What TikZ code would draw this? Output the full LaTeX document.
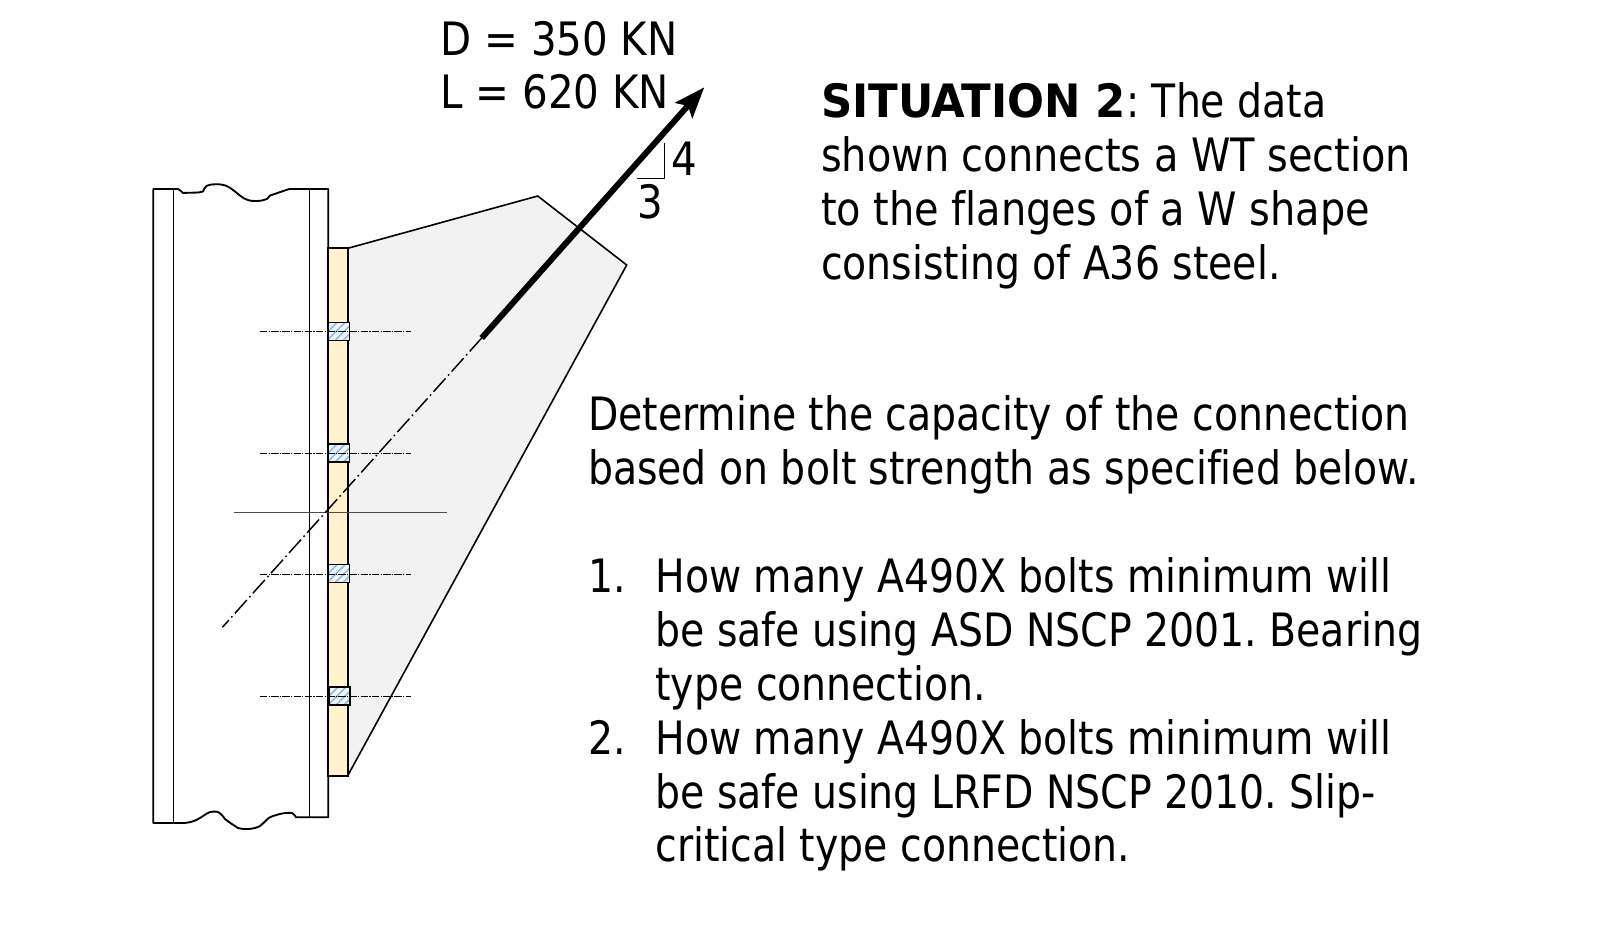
\documentclass[tikz,border=0pt]{standalone}
\usepackage{fontspec}
\setmainfont{DejaVu Sans Condensed}[FakeStretch=0.952,Ligatures={NoCommon},
  BoldFont={DejaVu Sans Condensed Bold},BoldFeatures={FakeStretch=1.05}]
\newfontfamily\labelfont{DejaVu Sans Condensed}[FakeStretch=0.975]
\newfontfamily\wideline{DejaVu Sans Condensed}[FakeStretch=0.963,Ligatures={NoCommon}]
\usetikzlibrary{arrows.meta}
\definecolor{plateY}{HTML}{FFF2CC}
\definecolor{gussetG}{HTML}{F2F2F2}
\definecolor{hatchB}{HTML}{8DB9E6}
\definecolor{boltB}{HTML}{F2F7FC}
\tikzset{
  px/.style={x=0.75pt,y=-0.75pt},
  outline/.style={draw=black,line width=1.4pt,line join=miter},
  thinl/.style={draw=black,line width=0.8pt},
  axisl/.style={draw=black,line width=0.7pt,dash pattern=on 5.5pt off 1pt on 0.9pt off 1pt},
  loadl/.style={draw=black,line width=1.1pt,dash pattern=on 13.5pt off 2.8pt on 1.2pt off 2.8pt},
  txt/.style={anchor=base west,inner sep=0pt,outer sep=0pt,font=\fontsize{34.5pt}{40pt}\selectfont\frenchspacing},
}
\newcommand{\boltbox}[2]{%
  \begin{scope}
    \clip (#1,#2-9) rectangle (#1+21,#2+9);
    \fill[boltB] (#1,#2-9) rectangle (#1+21,#2+9);
    \foreach \k in {-18,-10,...,22}
      \draw[hatchB,line width=1.2pt] (#1+\k,#2+10) -- (#1+\k+20,#2-10);
  \end{scope}
  \draw[black,line width=0.9pt] (#1,#2-9) rectangle (#1+21,#2+9);
}
\begin{document}
\begin{tikzpicture}[px]
\useasboundingbox (0,0) rectangle (1607,940);
% gusset
\coordinate (gA) at (347.7,248.3);
\coordinate (gB) at (537.7,196);
\coordinate (gC) at (626.7,265);
\coordinate (gD) at (347.7,775.7);
\fill[gussetG] (gA) -- (gB) -- (gC) -- (gD) -- cycle;
\draw[black,line width=1.2pt] (gA) -- (gB) -- (gC) -- (gD);
% plate
\draw[outline,fill=plateY] (328.3,248.3) rectangle (347.7,775.7);
% beam
\draw[outline,line join=round] (328.3,248.3) -- (328.3,189) -- (289.3,189)
  .. controls (280,192) and (275,194) .. (270,195.5)
  .. controls (268,198) and (267,199) .. (266.7,199)
  .. controls (262,201) and (258,201) .. (255,201)
  .. controls (245,201) and (242,197) .. (235,191.5)
  .. controls (228,186) and (225,184) .. (215,184.3)
  .. controls (207,184.5) and (205,186) .. (203,191.5)
  .. controls (200,193) and (190,192.5) .. (183,193)
  .. controls (180,192) and (181,189) .. (178,189)
  -- (153.3,189) -- (153.3,823) -- (185,823)
  .. controls (192,822) and (195,821) .. (200,818)
  .. controls (205,815) and (208,812) .. (212,811.7)
  .. controls (218,811) and (220,812) .. (225,819)
  .. controls (230,823) and (235,826) .. (238,828)
  .. controls (245,830) and (255,829) .. (260,826)
  .. controls (265,822) and (267,819) .. (269.5,817.5)
  .. controls (275,815) and (285,812) .. (292,813)
  .. controls (295,815) and (296,817) .. (296,817.3)
  -- (328.3,817.3) -- (328.3,775.7);
\draw[thinl] (173.7,190) -- (173.7,822.5);
\draw[thinl] (309.3,190) -- (309.3,817);
% bolt boxes
\boltbox{328.3}{331.3}
\boltbox{328.3}{453}
\boltbox{328.3}{573.5}
\boltbox{329}{696}
% bolt centre lines
\foreach \y/\n in {331.3/a,453.3/b,574/c,696/d}{
  \coordinate (cl\n) at (260,\y);
  \coordinate (cr\n) at (411,\y);
  \draw[axisl] (cl\n) -- (cr\n);
}
% horizontal axis
\coordinate (hL) at (234,512.7);
\coordinate (hR) at (446.7,512.7);
\draw[draw=black!70,line width=1pt] (hL) -- (hR);
% load line
\coordinate (aS) at (481.7,338);
\coordinate (aT) at (704.3,87.3);
\coordinate (aE) at (222.4,627.3);
\draw[loadl] (aS) -- (aE);
\draw[line width=4.5pt,-{Stealth[length=23pt,width=17pt,inset=4.5pt]}] (aS) -- (aT);
% slope triangle
\coordinate (tA) at (637.3,178.3);
\coordinate (tB) at (664,178.3);
\coordinate (tC) at (664,143.3);
\draw[black,line width=0.6pt] (tA) -- (tB) -- (tC);
% texts
\node[txt] (t4) at (671,175) {\labelfont 4};
\node[txt] (t3) at (637,218.3) {\labelfont 3};
\node[txt] (tD) at (440.5,55.4) {\labelfont D = 350 KN};
\node[txt] (tL) at (440.5,108.6) {\labelfont L = 620 KN};
\node[txt] (s1) at (821,117) {\textbf{SITUATION 2}: The data};
\node[txt] (s2) at (821,171) {\wideline shown connects a WT section};
\node[txt] (s3) at (821,225) {\wideline to the flanges of a W shape};
\node[txt] (s4) at (821,279) {consisting of A36 steel.};
\node[txt] (d1) at (588,430.5) {Determine the capacity of the connection};
\node[txt] (d2) at (588,484.5) {based on bolt strength as specified below.};
\node[txt] (n1) at (588,592.5) {1.};
\node[txt] (l1) at (655.5,592.5) {How many A490X bolts minimum will};
\node[txt] (l2) at (655.5,646.5) {be safe using ASD NSCP 2001. Bearing};
\node[txt] (l3) at (655.5,700.5) {type connection.};
\node[txt] (n2) at (588,754.5) {2.};
\node[txt] (l4) at (655.5,754.5) {How many A490X bolts minimum will};
\node[txt] (l5) at (655.5,808.5) {be safe using LRFD NSCP 2010. Slip-};
\node[txt] (l6) at (655.5,861.5) {critical type connection.};
\end{tikzpicture}
\end{document}
